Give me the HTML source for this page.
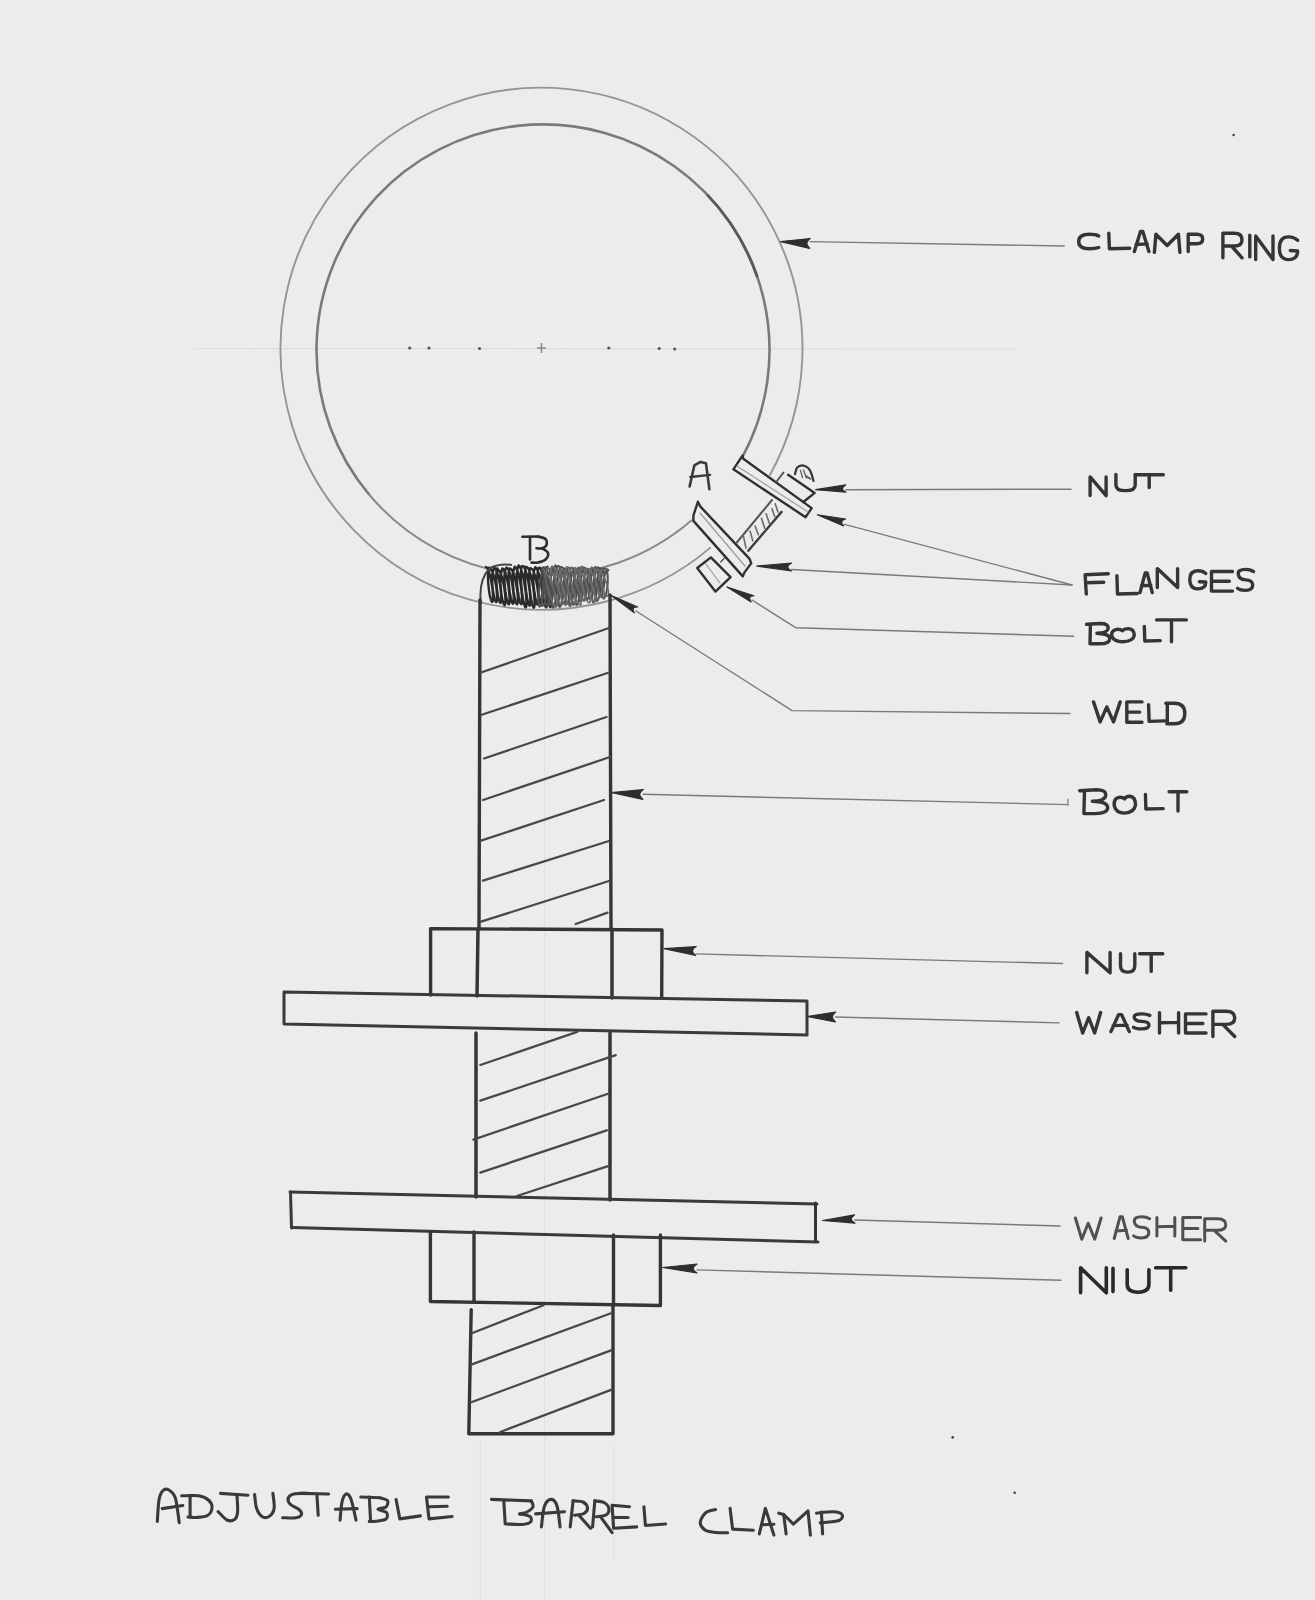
<!DOCTYPE html>
<html><head><meta charset="utf-8"><style>html,body{margin:0;padding:0;background:#ececec;overflow:hidden;}svg{display:block;}</style></head>
<body>
<svg width="1315" height="1600" viewBox="0 0 1315 1600">
<rect width="1315" height="1600" fill="#ececec"/>
<path d="M195.0 348.5 L1015.0 349.0" fill="none" stroke="#dddddd" stroke-width="1.2" stroke-linecap="round" stroke-linejoin="round" />
<path d="M544.5 600.0 L544.5 1600.0" fill="none" stroke="#e0e0e0" stroke-width="1.0" stroke-linecap="round" stroke-linejoin="round" />
<path d="M480.3 1440.0 L480.3 1600.0" fill="none" stroke="#e3e3e3" stroke-width="1.0" stroke-linecap="round" stroke-linejoin="round" />
<path d="M613.8 1445.0 L613.8 1560.0" fill="none" stroke="#e3e3e3" stroke-width="1.0" stroke-linecap="round" stroke-linejoin="round" />
<circle cx="409.7" cy="348.0" r="1.6" fill="#555"/>
<circle cx="429.0" cy="348.0" r="1.6" fill="#555"/>
<circle cx="479.5" cy="348.5" r="1.6" fill="#555"/>
<circle cx="608.8" cy="348.0" r="1.6" fill="#555"/>
<circle cx="659.2" cy="348.5" r="1.6" fill="#555"/>
<circle cx="674.7" cy="349.0" r="1.6" fill="#555"/>
<path d="M537 348 L546 348 M541.5 343 L541.5 353" stroke="#888" stroke-width="1.5"/>
<path d="M710.7 547.4 A261 261 0 1 1 769.6 475.5" fill="none" stroke="#959595" stroke-width="1.9"/>
<path d="M691.9 520.0 A226.5 225.6 0 0 1 369.5 495.0" fill="none" stroke="#8a8a8a" stroke-width="2.0"/>
<path d="M369.5 495.0 A226.5 225.6 0 1 1 743.0 455.9" fill="none" stroke="#7a7a7a" stroke-width="2.6"/>
<path d="M707.2 194.6 A226.5 225.6 0 0 1 757.3 277.0" fill="none" stroke="#5a5a5a" stroke-width="2.8"/>
<path d="M485.9 566.9 L487.1 567.7 L488.4 570.1 L489.6 574.0 L490.8 578.9 L491.8 584.4 L492.6 589.9 L493.0 594.9 L493.0 598.7 L492.7 601.1 L492.2 601.9 L491.4 600.9 L490.5 598.3 L489.6 594.4 L488.9 589.5 L488.3 584.2 L488.0 578.8 L488.0 574.0 L488.4 570.1 L489.0 567.6 L490.2 569.0 L491.3 569.8 L492.6 572.1 L493.8 575.8 L495.0 580.4 L496.0 585.7 L496.7 590.9 L497.0 595.5 L497.1 599.2 L496.8 601.4 L496.2 602.1 L495.4 601.2 L494.6 598.8 L493.7 595.1 L493.0 590.5 L492.4 585.4 L492.2 580.4 L492.2 575.8 L492.6 572.1 L493.3 569.7 L494.2 567.6 L495.3 568.4 L496.6 570.9 L497.9 574.8 L499.1 579.8 L500.1 585.3 L500.8 590.8 L501.2 595.8 L501.3 599.7 L501.0 602.1 L500.5 602.9 L499.7 601.9 L498.8 599.3 L497.9 595.4 L497.1 590.5 L496.6 585.1 L496.3 579.7 L496.3 574.8 L496.6 570.9 L497.3 568.3 L498.3 570.2 L499.5 571.0 L500.8 573.5 L502.0 577.3 L503.2 582.3 L504.2 587.7 L505.0 593.2 L505.4 598.1 L505.4 602.0 L505.1 604.4 L504.6 605.2 L503.8 604.2 L502.9 601.7 L502.0 597.8 L501.3 592.9 L500.7 587.5 L500.4 582.2 L500.4 577.3 L500.8 573.5 L501.4 570.9 L502.4 568.4 L503.6 569.2 L504.8 571.8 L506.1 575.7 L507.4 580.8 L508.4 586.4 L509.1 592.0 L509.5 597.1 L509.6 601.0 L509.3 603.5 L508.8 604.3 L508.0 603.4 L507.1 600.7 L506.2 596.7 L505.4 591.7 L504.8 586.2 L504.5 580.7 L504.5 575.7 L504.9 571.8 L505.5 569.2 L506.5 567.6 L507.7 568.5 L509.0 571.0 L510.3 575.0 L511.5 580.1 L512.5 585.7 L513.2 591.3 L513.7 596.4 L513.7 600.4 L513.5 602.9 L512.9 603.7 L512.1 602.7 L511.2 600.1 L510.4 596.1 L509.6 591.1 L509.0 585.5 L508.6 580.0 L508.6 575.0 L509.0 571.0 L509.7 568.4 L510.7 569.0 L511.9 569.8 L513.1 572.3 L514.4 576.2 L515.6 581.2 L516.6 586.7 L517.4 592.2 L517.8 597.1 L517.8 601.0 L517.6 603.5 L517.0 604.3 L516.2 603.4 L515.3 600.8 L514.5 596.9 L513.7 592.0 L513.1 586.5 L512.8 581.1 L512.8 576.2 L513.2 572.3 L513.8 569.7 L514.7 566.7 L515.9 567.6 L517.2 570.2 L518.5 574.4 L519.7 579.7 L520.8 585.5 L521.5 591.3 L522.0 596.6 L522.1 600.7 L521.8 603.4 L521.3 604.2 L520.5 603.3 L519.6 600.5 L518.7 596.4 L517.9 591.2 L517.2 585.4 L516.9 579.6 L516.9 574.4 L517.2 570.2 L517.8 567.5 L518.6 565.5 L519.7 566.5 L521.1 569.5 L522.5 574.1 L523.8 580.0 L524.9 586.6 L525.8 593.1 L526.3 599.0 L526.4 603.6 L526.2 606.6 L525.7 607.5 L524.9 606.5 L523.9 603.5 L523.0 598.8 L522.1 592.9 L521.4 586.5 L520.9 580.0 L520.8 574.1 L521.1 569.5 L521.7 566.5 L522.8 565.9 L524.0 566.8 L525.3 569.7 L526.7 574.1 L527.9 579.7 L529.0 585.8 L529.8 592.0 L530.3 597.6 L530.4 602.0 L530.2 604.8 L529.7 605.8 L528.9 604.8 L528.0 601.9 L527.0 597.5 L526.2 591.9 L525.5 585.8 L525.1 579.6 L525.0 574.1 L525.3 569.7 L526.0 566.8 L526.9 567.1 L528.1 568.1 L529.4 571.0 L530.8 575.5 L532.1 581.1 L533.2 587.4 L534.0 593.7 L534.5 599.4 L534.6 603.9 L534.4 606.7 L533.8 607.7 L533.1 606.7 L532.1 603.8 L531.2 599.3 L530.3 593.6 L529.6 587.4 L529.2 581.1 L529.2 575.5 L529.4 571.0 L530.1 568.1 L531.3 568.6 L532.5 569.5 L533.8 572.0 L535.1 576.0 L536.3 581.1 L537.3 586.7 L538.0 592.3 L538.5 597.4 L538.5 601.4 L538.3 603.9 L537.7 604.8 L536.9 603.9 L536.1 601.3 L535.2 597.3 L534.4 592.3 L533.8 586.7 L533.4 581.1 L533.4 576.0 L533.8 572.0 L534.5 569.5 L535.3 567.2 L536.5 568.1 L537.8 570.8 L539.1 575.1 L540.4 580.4 L541.4 586.3 L542.2 592.2 L542.7 597.5 L542.8 601.7 L542.5 604.4 L542.0 605.4 L541.2 604.4 L540.3 601.7 L539.4 597.5 L538.5 592.2 L537.9 586.3 L537.5 580.4 L537.5 575.1 L537.8 570.8 L538.5 568.1 L539.4 567.7 L540.5 568.7 L541.9 571.5 L543.2 575.9 L544.5 581.4 L545.6 587.5 L546.4 593.6 L546.8 599.1 L547.0 603.5 L546.7 606.4 L546.2 607.3 L545.4 606.4 L544.5 603.6 L543.6 599.2 L542.7 593.6 L542.0 587.5 L541.6 581.4 L541.6 575.9 L541.9 571.5 L542.5 568.7 L543.5 567.6 L544.7 568.5 L546.0 571.3 L547.4 575.7 L548.6 581.2 L549.7 587.3 L550.5 593.3 L551.0 598.8 L551.1 603.2 L550.8 606.0 L550.3 607.0 L549.5 606.0 L548.6 603.2 L547.7 598.9 L546.8 593.4 L546.2 587.3 L545.8 581.2 L545.7 575.7 L546.0 571.3 L546.7 568.5 L547.5 566.8" fill="none" stroke="#2a2a2a" stroke-width="2.4" stroke-linejoin="round" stroke-linecap="round"/>
<path d="M541.9 567.8 L543.0 568.7 L543.8 571.5 L544.2 575.8 L544.3 581.2 L544.0 587.2 L543.4 593.2 L542.6 598.6 L541.6 603.0 L540.6 605.7 L539.7 606.7 L539.0 605.7 L538.6 603.0 L538.4 598.7 L538.7 593.2 L539.3 587.2 L540.2 581.2 L541.4 575.8 L542.7 571.5 L544.0 568.7 L545.3 567.1 L546.3 568.1 L547.1 570.8 L547.6 575.0 L547.7 580.4 L547.4 586.3 L546.8 592.2 L546.0 597.5 L545.0 601.8 L544.0 604.5 L543.1 605.5 L542.4 604.5 L541.9 601.8 L541.8 597.6 L542.1 592.2 L542.7 586.3 L543.6 580.4 L544.7 575.0 L546.0 570.8 L547.4 568.1 L548.6 568.6 L549.6 569.5 L550.4 572.2 L550.9 576.2 L551.0 581.4 L550.7 587.1 L550.2 592.8 L549.4 597.9 L548.4 602.0 L547.4 604.7 L546.5 605.6 L545.8 604.7 L545.3 602.1 L545.2 598.0 L545.4 592.8 L546.0 587.1 L546.9 581.4 L548.0 576.2 L549.3 572.1 L550.7 569.5 L552.0 566.5 L553.0 567.4 L553.8 570.2 L554.3 574.4 L554.4 579.8 L554.1 585.7 L553.5 591.6 L552.7 597.0 L551.7 601.3 L550.7 604.0 L549.8 605.0 L549.1 604.1 L548.6 601.4 L548.5 597.1 L548.8 591.7 L549.4 585.8 L550.3 579.8 L551.4 574.4 L552.7 570.2 L554.1 567.4 L555.5 565.4 L556.6 566.5 L557.3 569.5 L557.7 574.2 L557.8 580.1 L557.4 586.6 L556.8 593.1 L555.9 599.0 L554.9 603.7 L553.9 606.8 L553.0 607.8 L552.2 606.8 L551.8 603.9 L551.7 599.2 L552.0 593.3 L552.7 586.7 L553.7 580.1 L554.9 574.2 L556.3 569.5 L557.6 566.5 L558.7 565.9 L559.8 566.9 L560.6 569.7 L561.0 574.1 L561.1 579.6 L560.8 585.7 L560.2 591.8 L559.4 597.3 L558.4 601.7 L557.4 604.6 L556.4 605.6 L555.7 604.7 L555.3 601.9 L555.2 597.5 L555.4 592.0 L556.1 585.8 L557.0 579.7 L558.2 574.1 L559.5 569.7 L560.8 566.9 L562.1 567.3 L563.2 568.3 L563.9 571.1 L564.4 575.5 L564.4 581.0 L564.1 587.1 L563.5 593.3 L562.7 598.8 L561.7 603.2 L560.7 606.1 L559.8 607.1 L559.1 606.2 L558.6 603.4 L558.5 599.0 L558.8 593.5 L559.4 587.3 L560.4 581.1 L561.5 575.5 L562.8 571.1 L564.2 568.3 L565.2 568.8 L566.3 569.7 L567.1 572.2 L567.6 576.1 L567.7 580.9 L567.5 586.3 L567.0 591.6 L566.2 596.5 L565.3 600.3 L564.3 602.9 L563.4 603.8 L562.6 603.0 L562.2 600.6 L562.0 596.7 L562.2 591.8 L562.8 586.4 L563.6 581.0 L564.7 576.1 L566.0 572.2 L567.3 569.7 L568.6 567.5 L569.7 568.5 L570.5 571.1 L571.0 575.1 L571.1 580.1 L570.8 585.7 L570.3 591.3 L569.5 596.3 L568.6 600.4 L567.6 603.0 L566.7 604.0 L565.9 603.2 L565.4 600.6 L565.3 596.6 L565.5 591.5 L566.1 585.9 L567.0 580.2 L568.1 575.1 L569.4 571.1 L570.7 568.5 L572.0 568.1 L573.1 569.1 L573.9 571.8 L574.3 575.9 L574.4 581.1 L574.2 586.8 L573.6 592.5 L572.8 597.7 L571.9 601.8 L570.9 604.6 L570.0 605.6 L569.2 604.7 L568.8 602.2 L568.6 598.0 L568.9 592.8 L569.5 587.0 L570.4 581.1 L571.5 575.9 L572.8 571.7 L574.1 569.1 L575.3 568.1 L576.4 569.0 L577.2 571.7 L577.7 575.7 L577.8 580.8 L577.5 586.4 L577.0 592.0 L576.2 597.1 L575.2 601.2 L574.3 603.9 L573.3 604.9 L572.6 604.1 L572.1 601.5 L572.0 597.5 L572.2 592.4 L572.8 586.6 L573.7 580.9 L574.8 575.7 L576.1 571.7 L577.4 569.1 L578.7 567.5 L579.8 568.4 L580.6 571.1 L581.0 575.3 L581.1 580.5 L580.9 586.2 L580.3 592.0 L579.5 597.2 L578.6 601.4 L577.6 604.1 L576.6 605.2 L575.9 604.4 L575.4 601.8 L575.3 597.6 L575.6 592.4 L576.2 586.5 L577.1 580.6 L578.2 575.3 L579.5 571.1 L580.8 568.5 L581.9 566.6 L583.0 567.5 L583.8 569.9 L584.3 573.7 L584.4 578.5 L584.2 583.8 L583.7 589.0 L583.0 593.8 L582.0 597.6 L581.1 600.2 L580.1 601.2 L579.4 600.4 L578.9 598.1 L578.8 594.3 L579.0 589.4 L579.5 584.0 L580.4 578.6 L581.5 573.7 L582.7 569.9 L584.0 567.5 L585.2 568.4 L586.3 569.2 L587.1 571.5 L587.6 575.1 L587.8 579.5 L587.6 584.5 L587.1 589.4 L586.4 593.9 L585.5 597.5 L584.5 599.9 L583.6 600.8 L582.9 600.1 L582.4 597.9 L582.2 594.4 L582.3 589.8 L582.9 584.8 L583.7 579.7 L584.8 575.1 L586.0 571.5 L587.3 569.2 L588.5 568.8 L589.5 569.7 L590.3 571.9 L590.9 575.2 L591.1 579.4 L590.9 584.1 L590.5 588.7 L589.8 593.0 L588.9 596.4 L587.9 598.7 L587.0 599.6 L586.3 598.9 L585.8 596.9 L585.6 593.5 L585.7 589.2 L586.2 584.4 L587.0 579.6 L588.1 575.2 L589.3 571.8 L590.5 569.7 L591.8 568.2 L592.9 569.0 L593.7 571.2 L594.2 574.6 L594.4 578.7 L594.3 583.4 L593.8 588.0 L593.1 592.2 L592.3 595.6 L591.3 597.9 L590.4 598.8 L589.6 598.2 L589.1 596.1 L588.9 592.8 L589.1 588.5 L589.6 583.7 L590.4 578.9 L591.4 574.6 L592.6 571.2 L593.9 569.0 L595.4 566.8 L596.5 567.7 L597.3 570.3 L597.7 574.2 L597.9 579.1 L597.6 584.5 L597.1 590.0 L596.3 594.9 L595.4 598.9 L594.4 601.6 L593.5 602.6 L592.7 601.9 L592.3 599.5 L592.1 595.6 L592.3 590.5 L592.9 584.9 L593.8 579.3 L594.9 574.2 L596.2 570.2 L597.5 567.8 L598.6 567.6 L599.7 568.5 L600.5 570.9 L601.0 574.6 L601.2 579.1 L601.0 584.1 L600.5 589.2 L599.8 593.8 L598.8 597.5 L597.9 600.0 L597.0 601.0 L596.2 600.3 L595.7 598.1 L595.5 594.5 L595.7 589.8 L596.3 584.5 L597.1 579.3 L598.2 574.6 L599.4 570.9 L600.7 568.6 L601.7 568.2 L602.8 568.9 L603.7 571.0 L604.2 574.1 L604.4 578.0 L604.3 582.2 L603.9 586.5 L603.2 590.4 L602.4 593.5 L601.5 595.7 L600.6 596.6 L599.8 596.1 L599.3 594.2 L599.0 591.1 L599.2 587.1 L599.6 582.6 L600.4 578.1 L601.4 574.1 L602.6 571.0 L603.8 569.0 L605.2 568.4 L606.2 569.2 L607.1 571.4 L607.6 574.7 L607.8 578.8 L607.7 583.3 L607.2 587.8 L606.5 592.0 L605.7 595.3 L604.7 597.6 L603.8 598.6 L603.1 598.0 L602.5 596.0 L602.3 592.7 L602.5 588.5 L603.0 583.7 L603.8 579.0 L604.8 574.7 L606.0 571.4 L607.3 569.3 L608.5 570.3" fill="none" stroke="#505050" stroke-width="2.0" stroke-linejoin="round" stroke-linecap="round"/>
<path d="M542.3 569.3 L544.1 570.3 L546.2 573.0 L548.6 577.2 L551.0 582.4 L553.2 588.3 L555.0 594.1 L556.3 599.4 L556.9 603.6 L556.8 606.3 L556.1 607.2 L554.8 606.3 L553.2 603.7 L551.3 599.5 L549.3 594.2 L547.6 588.3 L546.3 582.5 L545.5 577.2 L545.4 573.0 L546.0 570.3 L547.4 567.7 L549.2 568.6 L551.3 571.2 L553.6 575.2 L555.9 580.2 L558.0 585.7 L559.7 591.2 L560.9 596.2 L561.5 600.2 L561.4 602.8 L560.6 603.7 L559.4 602.9 L557.8 600.4 L555.9 596.4 L554.1 591.4 L552.5 585.8 L551.2 580.2 L550.5 575.2 L550.5 571.2 L551.1 568.7 L551.8 566.6 L553.6 567.5 L555.8 570.3 L558.2 574.6 L560.7 580.0 L562.9 585.9 L564.7 591.8 L566.0 597.2 L566.6 601.5 L566.6 604.3 L565.9 605.4 L564.6 604.5 L562.9 601.8 L561.0 597.5 L559.1 592.1 L557.3 586.0 L555.9 580.0 L555.1 574.6 L555.0 570.3 L555.5 567.6 L556.9 569.3 L558.7 570.2 L560.9 572.9 L563.2 576.9 L565.6 582.1 L567.7 587.7 L569.5 593.4 L570.7 598.5 L571.2 602.6 L571.2 605.3 L570.5 606.3 L569.2 605.5 L567.6 602.9 L565.7 598.8 L563.8 593.7 L562.1 587.9 L560.8 582.1 L560.1 576.9 L560.0 572.8 L560.6 570.3 L562.2 569.6 L564.0 570.5 L566.1 572.9 L568.3 576.6 L570.6 581.3 L572.5 586.4 L574.1 591.5 L575.2 596.2 L575.7 600.0 L575.5 602.4 L574.8 603.4 L573.6 602.6 L572.0 600.3 L570.2 596.6 L568.5 591.9 L567.0 586.6 L565.8 581.4 L565.2 576.6 L565.2 572.9 L565.9 570.5 L566.4 566.8 L568.1 567.8 L570.4 570.5 L572.8 574.8 L575.2 580.1 L577.4 585.9 L579.2 591.8 L580.4 597.1 L581.1 601.3 L581.0 604.2 L580.3 605.2 L579.1 604.4 L577.4 601.8 L575.5 597.5 L573.5 592.2 L571.8 586.2 L570.4 580.2 L569.6 574.8 L569.5 570.5 L570.1 567.8 L571.9 567.3 L573.7 568.2 L575.8 570.6 L578.0 574.3 L580.2 578.9 L582.2 584.0 L583.8 589.1 L584.8 593.7 L585.3 597.5 L585.2 599.9 L584.4 600.9 L583.2 600.2 L581.7 597.9 L579.9 594.3 L578.2 589.6 L576.6 584.3 L575.5 579.0 L574.9 574.3 L574.9 570.6 L575.6 568.3 L576.7 569.1 L578.5 570.0 L580.6 572.4 L582.9 576.1 L585.1 580.7 L587.0 585.8 L588.6 590.9 L589.7 595.6 L590.2 599.4 L590.0 601.9 L589.3 602.9 L588.1 602.2 L586.5 599.9 L584.8 596.2 L583.0 591.5 L581.5 586.2 L580.3 580.9 L579.7 576.1 L579.7 572.4 L580.4 570.0 L581.3 566.7 L583.1 567.7 L585.3 570.2 L587.6 574.1 L589.8 578.9 L591.9 584.1 L593.5 589.4 L594.6 594.3 L595.1 598.2 L595.0 600.8 L594.3 601.8 L593.1 601.1 L591.5 598.8 L589.7 594.9 L587.9 590.0 L586.3 584.5 L585.1 579.0 L584.4 574.1 L584.4 570.2 L585.1 567.7 L586.9 568.7 L588.6 569.5 L590.7 571.7 L592.8 575.0 L594.9 579.1 L596.7 583.6 L598.1 588.2 L599.0 592.3 L599.4 595.7 L599.2 598.0 L598.4 598.9 L597.3 598.4 L595.8 596.4 L594.1 593.1 L592.5 588.8 L591.1 584.1 L590.1 579.3 L589.7 575.0 L589.8 571.7 L590.6 569.6 L591.6 567.1 L593.3 567.9 L595.4 570.2 L597.6 573.6 L599.7 577.9 L601.5 582.6 L603.0 587.3 L603.9 591.5 L604.3 595.0 L604.2 597.4 L603.4 598.4 L602.2 597.8 L600.7 595.8 L599.0 592.4 L597.4 588.0 L596.0 583.0 L594.9 578.1 L594.4 573.6 L594.5 570.2 L595.3 568.0 L597.1 570.0 L598.9 570.7 L600.8 572.6 L602.9 575.5 L604.8 579.0 L606.4 582.9 L607.6 586.8 L608.3 590.4 L608.5 593.3 L608.3 595.3 L607.5 596.2 L606.4 595.8 L605.0 594.1 L603.4 591.3 L602.0 587.6 L600.8 583.4 L600.0 579.2 L599.7 575.5 L600.0 572.6 L600.8 570.8 L602.1 571.0" fill="none" stroke="#6a6a6a" stroke-width="1.6" stroke-linejoin="round" stroke-linecap="round"/>
<path d="M481 604 Q478 580 490 568 Q500 563 512 565" fill="none" stroke="#444" stroke-width="2"/>
<path d="M480.0 600.0 L479.0 929.0" fill="none" stroke="#353535" stroke-width="3.4" stroke-linecap="round" stroke-linejoin="round" />
<path d="M610.0 595.0 L611.0 929.0" fill="none" stroke="#353535" stroke-width="3.4" stroke-linecap="round" stroke-linejoin="round" />
<path d="M478.0 929.0 L477.0 996.0" fill="none" stroke="#353535" stroke-width="3.5" stroke-linecap="round" stroke-linejoin="round" />
<path d="M612.0 929.0 L612.0 998.0" fill="none" stroke="#353535" stroke-width="3.5" stroke-linecap="round" stroke-linejoin="round" />
<path d="M476.0 1033.0 L476.0 1197.0" fill="none" stroke="#353535" stroke-width="3.5" stroke-linecap="round" stroke-linejoin="round" />
<path d="M610.0 1033.0 L610.0 1200.0" fill="none" stroke="#353535" stroke-width="3.5" stroke-linecap="round" stroke-linejoin="round" />
<path d="M474.0 1232.0 L474.0 1302.0" fill="none" stroke="#353535" stroke-width="3.4" stroke-linecap="round" stroke-linejoin="round" />
<path d="M613.5 1235.0 L613.5 1305.0" fill="none" stroke="#353535" stroke-width="3.4" stroke-linecap="round" stroke-linejoin="round" />
<path d="M471.2 1309.6 L468.8 1433.8 L613.0 1433.8 L613.0 1305.0" fill="none" stroke="#353535" stroke-width="3.4" stroke-linecap="round" stroke-linejoin="round" />
<path d="M430.6 995.0 L430.6 928.6 L662.0 930.0 L661.7 998.0" fill="none" stroke="#353535" stroke-width="3.4" stroke-linecap="round" stroke-linejoin="round" />
<path d="M284.0 992.0 L807.0 1001.0 L807.0 1035.0 L284.0 1024.0 L284.0 992.0" fill="none" stroke="#3a3a3a" stroke-width="3.0" stroke-linecap="round" stroke-linejoin="round" />
<path d="M290.0 1192.0 L817.0 1204.0" fill="none" stroke="#3a3a3a" stroke-width="3.0" stroke-linecap="round" stroke-linejoin="round" />
<path d="M815.5 1203.0 L815.5 1241.5" fill="none" stroke="#353535" stroke-width="3.0" stroke-linecap="round" stroke-linejoin="round" />
<path d="M292.0 1227.5 L818.0 1242.0" fill="none" stroke="#3a3a3a" stroke-width="3.0" stroke-linecap="round" stroke-linejoin="round" />
<path d="M290.5 1192.0 L291.5 1228.0" fill="none" stroke="#3a3a3a" stroke-width="3.0" stroke-linecap="round" stroke-linejoin="round" />
<path d="M430.4 1232.0 L430.4 1301.5 L660.4 1305.5 L660.4 1235.0" fill="none" stroke="#353535" stroke-width="3.4" stroke-linecap="round" stroke-linejoin="round" />
<path d="M481.0 672.5 L609.0 628.0" fill="none" stroke="#484848" stroke-width="2.3" stroke-linecap="round" stroke-linejoin="round" />
<path d="M481.0 715.0 L609.0 672.5" fill="none" stroke="#484848" stroke-width="2.3" stroke-linecap="round" stroke-linejoin="round" />
<path d="M484.0 758.5 L606.5 717.0" fill="none" stroke="#484848" stroke-width="2.3" stroke-linecap="round" stroke-linejoin="round" />
<path d="M483.0 800.0 L610.0 757.0" fill="none" stroke="#484848" stroke-width="2.3" stroke-linecap="round" stroke-linejoin="round" />
<path d="M481.0 840.7 L604.0 800.0" fill="none" stroke="#484848" stroke-width="2.3" stroke-linecap="round" stroke-linejoin="round" />
<path d="M483.0 880.6 L609.0 841.0" fill="none" stroke="#484848" stroke-width="2.3" stroke-linecap="round" stroke-linejoin="round" />
<path d="M481.0 921.7 L609.0 881.0" fill="none" stroke="#484848" stroke-width="2.3" stroke-linecap="round" stroke-linejoin="round" />
<path d="M575.7 924.0 L607.6 912.6" fill="none" stroke="#484848" stroke-width="2.3" stroke-linecap="round" stroke-linejoin="round" />
<path d="M480.3 1065.0 L577.2 1031.9" fill="none" stroke="#484848" stroke-width="2.3" stroke-linecap="round" stroke-linejoin="round" />
<path d="M480.3 1100.7 L615.7 1055.2" fill="none" stroke="#484848" stroke-width="2.3" stroke-linecap="round" stroke-linejoin="round" />
<path d="M473.4 1139.6 L608.8 1093.5" fill="none" stroke="#484848" stroke-width="2.3" stroke-linecap="round" stroke-linejoin="round" />
<path d="M480.3 1172.6 L606.8 1130.3" fill="none" stroke="#484848" stroke-width="2.3" stroke-linecap="round" stroke-linejoin="round" />
<path d="M516.9 1196.0 L608.8 1165.9" fill="none" stroke="#484848" stroke-width="2.3" stroke-linecap="round" stroke-linejoin="round" />
<path d="M471.8 1333.2 L543.6 1305.2" fill="none" stroke="#484848" stroke-width="2.3" stroke-linecap="round" stroke-linejoin="round" />
<path d="M470.6 1364.8 L611.7 1313.0" fill="none" stroke="#484848" stroke-width="2.3" stroke-linecap="round" stroke-linejoin="round" />
<path d="M470.6 1402.5 L611.7 1350.2" fill="none" stroke="#484848" stroke-width="2.3" stroke-linecap="round" stroke-linejoin="round" />
<path d="M499.8 1432.2 L611.7 1389.6" fill="none" stroke="#484848" stroke-width="2.3" stroke-linecap="round" stroke-linejoin="round" />
<path d="M742.5 455.6 L743.3 458.7 L811.7 508.1 L805.6 517.2 L733.4 469.3 L742.5 455.6" fill="none" stroke="#303030" stroke-width="2.4" stroke-linecap="round" stroke-linejoin="round" />
<path d="M737.0 466.0 L808.0 512.0" fill="none" stroke="#a0a0a0" stroke-width="1.2" stroke-linecap="round" stroke-linejoin="round" />
<path d="M776.0 482.3 L783.6 472.4" fill="none" stroke="#505050" stroke-width="1.8" stroke-linecap="round" stroke-linejoin="round" />
<path d="M788.1 474.7 L814.7 492.9 L803.3 502.0" fill="none" stroke="#303030" stroke-width="2.4" stroke-linecap="round" stroke-linejoin="round" />
<path d="M795.0 474.2 C795.4 473.1 796.0 469.0 797.2 467.5 C798.5 466.0 800.6 465.2 802.5 465.3 C804.4 465.4 807.0 466.8 808.5 468.2 C810.0 469.6 810.7 471.9 811.5 474.0 C812.3 476.1 813.2 479.8 813.5 481.0" fill="none" stroke="#363636" stroke-width="2.2" stroke-linecap="round" stroke-linejoin="round"/>
<path d="M800.5 470.5 L802.5 477.5" fill="none" stroke="#6a6a6a" stroke-width="1.4" stroke-linecap="round" stroke-linejoin="round" />
<path d="M803.5 470.0 L806.5 478.0" fill="none" stroke="#6a6a6a" stroke-width="1.4" stroke-linecap="round" stroke-linejoin="round" />
<path d="M806.0 476.0 L810.5 479.0" fill="none" stroke="#555" stroke-width="1.6" stroke-linecap="round" stroke-linejoin="round" />
<path d="M697.9 501.8 L693.4 515.5 L693.4 520.9 L742.8 576.4 L744.3 572.6 L751.2 563.4 L749.6 558.9 L700.2 506.4 L697.9 501.8" fill="none" stroke="#303030" stroke-width="2.4" stroke-linecap="round" stroke-linejoin="round" />
<path d="M700.0 513.0 L745.0 566.0" fill="none" stroke="#9a9a9a" stroke-width="1.2" stroke-linecap="round" stroke-linejoin="round" />
<path d="M736.8 542.5 L772.0 500.0" fill="none" stroke="#555" stroke-width="2.0" stroke-linecap="round" stroke-linejoin="round" />
<path d="M748.3 550.7 L781.6 511.9" fill="none" stroke="#3c3c3c" stroke-width="2.4" stroke-linecap="round" stroke-linejoin="round" />
<path d="M743.2 535.2 L746.0 548.0" fill="none" stroke="#6a6a6a" stroke-width="1.6" stroke-linecap="round" stroke-linejoin="round" />
<path d="M750.1 531.1 L752.8 540.7" fill="none" stroke="#6a6a6a" stroke-width="1.6" stroke-linecap="round" stroke-linejoin="round" />
<path d="M755.1 526.0 L758.3 534.7" fill="none" stroke="#6a6a6a" stroke-width="1.6" stroke-linecap="round" stroke-linejoin="round" />
<path d="M761.5 518.3 L764.7 528.3" fill="none" stroke="#6a6a6a" stroke-width="1.6" stroke-linecap="round" stroke-linejoin="round" />
<path d="M766.1 513.7 L769.7 524.2" fill="none" stroke="#6a6a6a" stroke-width="1.6" stroke-linecap="round" stroke-linejoin="round" />
<path d="M772.0 508.7 L774.7 516.5" fill="none" stroke="#6a6a6a" stroke-width="1.6" stroke-linecap="round" stroke-linejoin="round" />
<path d="M775.2 503.7 L777.9 511.9" fill="none" stroke="#6a6a6a" stroke-width="1.6" stroke-linecap="round" stroke-linejoin="round" />
<path d="M697.2 568.0 L710.9 557.4 L730.6 577.1 L715.4 591.6 L697.2 568.0" fill="none" stroke="#303030" stroke-width="2.4" stroke-linecap="round" stroke-linejoin="round" />
<path d="M705.5 563.5 L720.0 583.0" fill="none" stroke="#9a9a9a" stroke-width="1.2" stroke-linecap="round" stroke-linejoin="round" />
<path d="M720.7 561.9 L724.5 558.1" fill="none" stroke="#555" stroke-width="1.4" stroke-linecap="round" stroke-linejoin="round" />
<path d="M810.0 241.6 L1064.2 246.0" fill="none" stroke="#7a7a7a" stroke-width="1.4" stroke-linecap="round" stroke-linejoin="round" />
<path d="M845.8 489.7 L1071.0 489.2" fill="none" stroke="#7a7a7a" stroke-width="1.4" stroke-linecap="round" stroke-linejoin="round" />
<path d="M844.7 524.4 L1072.0 585.0" fill="none" stroke="#7a7a7a" stroke-width="1.4" stroke-linecap="round" stroke-linejoin="round" />
<path d="M791.6 569.5 L1072.0 585.0" fill="none" stroke="#7a7a7a" stroke-width="1.4" stroke-linecap="round" stroke-linejoin="round" />
<path d="M752.0 600.0 L795.6 627.7 L1073.8 636.2" fill="none" stroke="#7a7a7a" stroke-width="1.4" stroke-linecap="round" stroke-linejoin="round" />
<path d="M636.0 611.0 L792.0 710.6 L1070.0 713.5" fill="none" stroke="#7a7a7a" stroke-width="1.4" stroke-linecap="round" stroke-linejoin="round" />
<path d="M643.2 794.3 L1068.0 804.6" fill="none" stroke="#7a7a7a" stroke-width="1.4" stroke-linecap="round" stroke-linejoin="round" />
<path d="M1068.0 799.0 L1068.0 805.0" fill="none" stroke="#7a7a7a" stroke-width="1.2" stroke-linecap="round" stroke-linejoin="round" />
<path d="M696.0 953.9 L1062.6 963.5" fill="none" stroke="#7a7a7a" stroke-width="1.4" stroke-linecap="round" stroke-linejoin="round" />
<path d="M835.6 1017.0 L1059.0 1022.9" fill="none" stroke="#7a7a7a" stroke-width="1.4" stroke-linecap="round" stroke-linejoin="round" />
<path d="M854.7 1220.0 L1060.0 1226.0" fill="none" stroke="#7a7a7a" stroke-width="1.4" stroke-linecap="round" stroke-linejoin="round" />
<path d="M697.0 1269.9 L1061.0 1280.3" fill="none" stroke="#7a7a7a" stroke-width="1.4" stroke-linecap="round" stroke-linejoin="round" />
<path d="M780.7 241.6 L809.7 248.4 Q803.6 243.1 810.3 238.6 Z" fill="#2e2e2e" stroke="#2e2e2e" stroke-width="1.2" stroke-linejoin="round"/>
<path d="M815.6 489.7 L845.9 492.1 Q839.2 488.8 845.7 484.9 Z" fill="#2e2e2e" stroke="#2e2e2e" stroke-width="1.2" stroke-linejoin="round"/>
<path d="M817.3 514.8 L843.7 526.0 Q838.7 520.8 845.7 519.0 Z" fill="#2e2e2e" stroke="#2e2e2e" stroke-width="1.2" stroke-linejoin="round"/>
<path d="M756.8 566.1 L791.5 571.0 Q783.9 566.8 791.7 563.0 Z" fill="#2e2e2e" stroke="#2e2e2e" stroke-width="1.2" stroke-linejoin="round"/>
<path d="M727.0 587.1 L751.1 601.9 Q746.9 596.2 753.9 595.7 Z" fill="#2e2e2e" stroke="#2e2e2e" stroke-width="1.2" stroke-linejoin="round"/>
<path d="M611.3 595.6 L634.3 612.8 Q630.6 606.8 637.7 607.0 Z" fill="#2e2e2e" stroke="#2e2e2e" stroke-width="1.2" stroke-linejoin="round"/>
<path d="M611.0 792.5 L642.9 799.4 Q636.1 794.1 643.5 789.6 Z" fill="#2e2e2e" stroke="#2e2e2e" stroke-width="1.2" stroke-linejoin="round"/>
<path d="M664.0 948.7 L695.7 955.5 Q689.0 950.5 696.3 946.5 Z" fill="#2e2e2e" stroke="#2e2e2e" stroke-width="1.2" stroke-linejoin="round"/>
<path d="M807.0 1016.5 L835.5 1021.9 Q829.3 1016.9 835.7 1012.1 Z" fill="#2e2e2e" stroke="#2e2e2e" stroke-width="1.2" stroke-linejoin="round"/>
<path d="M822.5 1220.5 L854.9 1223.1 Q847.6 1219.3 854.5 1214.9 Z" fill="#2e2e2e" stroke="#2e2e2e" stroke-width="1.2" stroke-linejoin="round"/>
<path d="M662.8 1267.5 L696.9 1273.0 Q689.5 1268.3 697.1 1264.0 Z" fill="#2e2e2e" stroke="#2e2e2e" stroke-width="1.2" stroke-linejoin="round"/>
<path d="M689.6 486.5 L694.4 465.3 L700.5 461.9 L706.0 463.3 L709.4 489.3" fill="none" stroke="#3a3a3a" stroke-width="2.6" stroke-linecap="round" stroke-linejoin="round" />
<path d="M690.3 477.0 L710.1 474.9" fill="none" stroke="#3a3a3a" stroke-width="2.4" stroke-linecap="round" stroke-linejoin="round" />
<path d="M522.4 536.7 L538.0 536.5" fill="none" stroke="#2e2e2e" stroke-width="2.6" stroke-linecap="round" stroke-linejoin="round" />
<path d="M538.0 536.5 C539.2 536.9 544.1 537.6 545.5 539.0 C546.9 540.4 547.1 543.5 546.5 545.0 C545.9 546.5 543.7 547.8 542.0 548.3 C540.3 548.8 537.4 548.3 536.5 548.3" fill="none" stroke="#2e2e2e" stroke-width="2.6" stroke-linecap="round" stroke-linejoin="round"/>
<path d="M542.0 548.3 C543.0 549.1 547.4 551.1 548.0 553.0 C548.6 554.9 547.2 557.9 545.5 559.5 C543.8 561.1 540.3 562.0 538.0 562.5 C535.7 563.0 532.6 562.6 531.5 562.6" fill="none" stroke="#2e2e2e" stroke-width="2.6" stroke-linecap="round" stroke-linejoin="round"/>
<path d="M530.0 536.7 L530.0 559.5" fill="none" stroke="#2e2e2e" stroke-width="2.6" stroke-linecap="round" stroke-linejoin="round" />
<path d="M 1098.7 235.9 Q 1095.7 234.2 1089.7 234.2 Q 1078.7 234.2 1078.7 241.4 Q 1078.7 248.7 1089.7 248.7 Q 1095.7 248.7 1098.7 247.5 M 1108.8 233.3 L 1109.4 248.7 L 1129.7 248.2 M 1134.4 251.5 L 1140.5 231.4 L 1142.8 231.4 L 1148.9 251.5 M 1136.1 244.5 L 1147.2 243.9 M 1154.4 252.4 L 1155.9 234.2 L 1167.2 245.5 L 1178.4 234.2 L 1179.9 252.4 M 1188.2 251.5 L 1188.2 234.2 L 1196.9 234.2 Q 1202.7 234.2 1202.7 239.0 Q 1202.7 243.7 1196.9 243.7 L 1188.2 243.7 M 1222.9 257.8 L 1222.9 233.3 L 1234.4 233.3 Q 1242.0 233.3 1242.0 239.9 Q 1242.0 246.0 1234.4 246.0 L 1222.9 246.0 M 1231.5 246.0 L 1242.0 257.8 M 1249.8 235.1 L 1249.8 256.9 M 1255.7 259.6 L 1255.7 236.0 L 1273.0 259.6 L 1273.0 236.0 M 1297.6 240.3 Q 1294.0 236.9 1288.5 236.9 Q 1279.4 236.9 1279.4 248.2 Q 1279.4 259.6 1288.5 259.6 Q 1297.6 259.6 1297.6 251.0 L 1290.3 250.5 " fill="none" stroke="#353535" stroke-width="3.4" stroke-linecap="round" stroke-linejoin="round"/>
<path d="M 1090.1 495.6 L 1090.1 476.9 L 1106.1 495.6 L 1106.1 476.9 M 1115.9 474.4 L 1115.9 484.9 Q 1115.9 490.6 1125.5 490.6 Q 1135.2 490.6 1135.2 484.9 L 1135.2 474.4 M 1135.0 474.7 L 1163.3 474.7 M 1149.2 474.7 L 1149.2 487.6 " fill="none" stroke="#353535" stroke-width="3.4" stroke-linecap="round" stroke-linejoin="round"/>
<path d="M 1108.3 573.7 L 1085.1 574.7 L 1086.3 594.0 M 1085.6 582.8 L 1103.7 582.2 M 1116.9 575.8 L 1117.5 594.0 L 1137.2 593.5 M 1140.0 592.6 L 1145.2 573.0 L 1147.1 573.0 L 1152.3 592.6 M 1141.5 585.7 L 1150.8 585.2 M 1157.3 587.5 L 1157.3 568.6 L 1177.6 587.5 L 1177.6 568.6 M 1205.8 573.5 Q 1202.6 570.8 1197.8 570.8 Q 1189.8 570.8 1189.8 579.8 Q 1189.8 588.9 1197.8 588.9 Q 1205.8 588.9 1205.8 582.0 L 1199.4 581.7 M 1232.5 571.5 L 1211.5 571.5 L 1211.5 591.1 L 1232.5 591.1 M 1211.5 581.3 L 1229.3 581.3 M 1253.5 571.5 Q 1250.3 569.4 1245.5 569.4 Q 1237.5 569.4 1238.3 574.6 Q 1239.1 579.5 1245.5 579.9 Q 1252.7 580.3 1252.7 585.1 Q 1252.7 590.4 1245.5 590.4 Q 1239.9 590.4 1237.5 588.3 " fill="none" stroke="#353535" stroke-width="3.4" stroke-linecap="round" stroke-linejoin="round"/>
<path d="M 1086.5 624.3 L 1100.4 623.5 Q 1108.5 623.5 1108.1 628.4 Q 1107.4 633.0 1096.9 633.2 Q 1109.7 633.7 1109.7 638.7 Q 1109.7 643.8 1099.3 643.8 L 1090.0 643.8 M 1090.4 624.3 L 1090.0 643.8 M 1122.7 630.7 Q 1118.1 627.9 1113.4 630.7 Q 1111.1 632.7 1111.8 636.2 Q 1113.9 641.7 1122.7 641.7 Q 1133.1 641.4 1134.3 635.5 Q 1134.3 629.3 1128.5 628.6 Q 1123.9 628.6 1122.7 630.7 M 1144.3 626.4 L 1144.8 641.0 L 1160.3 640.6 M 1156.6 619.9 L 1186.3 619.9 M 1171.5 619.9 L 1171.5 641.7 " fill="none" stroke="#353535" stroke-width="3.4" stroke-linecap="round" stroke-linejoin="round"/>
<path d="M 1093.5 701.9 L 1100.2 721.9 L 1106.8 706.9 L 1113.5 721.9 L 1120.2 701.9 M 1142.0 701.9 L 1126.8 701.9 L 1126.8 722.3 L 1142.0 722.3 M 1126.8 712.1 L 1139.7 712.1 M 1148.6 704.7 L 1149.1 721.4 L 1164.9 720.9 M 1167.3 703.3 L 1167.3 723.8 M 1165.8 703.3 L 1174.4 703.3 Q 1184.8 703.3 1184.8 713.5 Q 1184.8 723.8 1174.4 723.8 L 1166.8 723.8 " fill="none" stroke="#353535" stroke-width="3.4" stroke-linecap="round" stroke-linejoin="round"/>
<path d="M 1079.7 790.7 L 1096.5 789.7 Q 1106.3 789.7 1105.7 795.4 Q 1104.9 800.9 1092.3 801.2 Q 1107.7 801.6 1107.7 807.6 Q 1107.7 813.6 1095.1 813.6 L 1083.9 813.6 M 1084.5 790.7 L 1083.9 813.6 M 1124.6 798.9 Q 1120.2 795.4 1115.8 798.9 Q 1113.6 801.6 1114.3 806.0 Q 1116.2 813.1 1124.6 813.1 Q 1134.4 812.7 1135.5 805.1 Q 1135.5 797.2 1130.0 796.3 Q 1125.6 796.3 1124.6 798.9 M 1145.4 794.4 L 1145.9 809.0 L 1163.2 808.6 M 1169.1 791.8 L 1186.8 791.8 M 1178.0 791.8 L 1178.0 811.1 " fill="none" stroke="#353535" stroke-width="3.4" stroke-linecap="round" stroke-linejoin="round"/>
<path d="M 1086.9 972.8 L 1086.9 952.4 L 1110.1 972.8 L 1110.1 952.4 M 1120.5 953.7 L 1120.5 965.7 Q 1120.5 972.1 1127.7 972.1 Q 1134.8 972.1 1134.8 965.7 L 1134.8 953.7 M 1139.6 953.7 L 1162.8 953.7 M 1151.2 953.7 L 1151.2 971.4 " fill="none" stroke="#353535" stroke-width="3.4" stroke-linecap="round" stroke-linejoin="round"/>
<path d="M 1076.7 1012.6 L 1082.7 1033.0 L 1088.7 1017.7 L 1094.6 1033.0 L 1100.6 1012.6 M 1110.9 1031.6 L 1118.6 1014.6 L 1121.6 1014.6 L 1129.3 1031.6 M 1113.1 1025.6 L 1127.1 1025.1 M 1149.8 1015.4 Q 1146.5 1013.9 1141.7 1013.9 Q 1133.5 1013.9 1134.3 1017.6 Q 1135.1 1021.1 1141.7 1021.4 Q 1149.0 1021.7 1149.0 1025.1 Q 1149.0 1028.9 1141.7 1028.9 Q 1135.9 1028.9 1133.5 1027.4 M 1159.5 1012.6 L 1159.5 1033.0 M 1178.6 1012.6 L 1178.6 1033.0 M 1159.5 1022.8 L 1178.6 1022.4 M 1206.0 1013.9 L 1185.5 1013.9 L 1185.5 1033.0 L 1206.0 1033.0 M 1185.5 1023.5 L 1202.9 1023.5 M 1212.9 1036.5 L 1212.9 1011.2 L 1226.0 1011.2 Q 1234.7 1011.2 1234.7 1018.0 Q 1234.7 1024.4 1226.0 1024.4 L 1212.9 1024.4 M 1222.7 1024.4 L 1234.7 1036.5 " fill="none" stroke="#353535" stroke-width="3.4" stroke-linecap="round" stroke-linejoin="round"/>
<path d="M 1075.4 1218.0 L 1081.8 1239.2 L 1088.2 1223.3 L 1094.7 1239.2 L 1101.1 1218.0 M 1114.2 1238.5 L 1120.1 1216.7 L 1122.3 1216.7 L 1128.2 1238.5 M 1115.9 1230.9 L 1126.5 1230.2 M 1149.6 1218.8 Q 1146.4 1216.7 1141.6 1216.7 Q 1133.6 1216.7 1134.4 1222.0 Q 1135.2 1226.9 1141.6 1227.3 Q 1148.8 1227.7 1148.8 1232.6 Q 1148.8 1237.9 1141.6 1237.9 Q 1136.0 1237.9 1133.6 1235.8 M 1156.9 1217.4 L 1156.9 1235.9 M 1174.8 1217.4 L 1174.8 1235.9 M 1156.9 1226.7 L 1174.8 1226.3 M 1200.6 1217.4 L 1182.8 1217.4 L 1182.8 1239.8 L 1200.6 1239.8 M 1182.8 1228.6 L 1197.9 1228.6 M 1204.7 1241.1 L 1204.7 1218.7 L 1217.4 1218.7 Q 1225.8 1218.7 1225.8 1224.7 Q 1225.8 1230.3 1217.4 1230.3 L 1204.7 1230.3 M 1214.2 1230.3 L 1225.8 1241.1 " fill="none" stroke="#505050" stroke-width="3.0" stroke-linecap="round" stroke-linejoin="round"/>
<path d="M 1080.6 1292.8 L 1080.6 1267.8 L 1106.3 1292.8 L 1106.3 1267.8 M 1113.0 1268.4 L 1113.0 1291.6 M 1127.2 1269.7 L 1127.2 1284.3 Q 1127.2 1292.2 1138.0 1292.2 Q 1148.9 1292.2 1148.9 1284.3 L 1148.9 1269.7 M 1155.6 1267.8 L 1185.8 1267.8 M 1170.7 1267.8 L 1170.7 1290.2 " fill="none" stroke="#2a2a2a" stroke-width="3.6" stroke-linecap="round" stroke-linejoin="round"/>
<path d="M157.3 1521.4 C157.6 1517.8 158.1 1505.2 159.0 1500.0 C159.9 1494.8 161.3 1492.2 163.0 1490.5 C164.7 1488.8 167.0 1488.9 169.0 1490.0 C171.0 1491.1 173.6 1493.7 175.0 1497.0 C176.4 1500.3 176.8 1505.7 177.5 1510.0 C178.2 1514.3 178.9 1520.5 179.2 1522.6" fill="none" stroke="#3a3a3a" stroke-width="3.1" stroke-linecap="round" stroke-linejoin="round"/>
<path d="M162.2 1508.6 L182.8 1505.5" fill="none" stroke="#3a3a3a" stroke-width="3.1" stroke-linecap="round" stroke-linejoin="round" />
<path d="M190.1 1495.2 L190.1 1516.5" fill="none" stroke="#3a3a3a" stroke-width="3.1" stroke-linecap="round" stroke-linejoin="round" />
<path d="M181.6 1495.8 C184.4 1495.8 194.1 1495.0 198.7 1495.8 C203.3 1496.6 206.8 1498.5 209.0 1500.5 C211.2 1502.5 212.2 1505.5 212.0 1508.0 C211.8 1510.5 210.2 1513.9 207.5 1515.5 C204.8 1517.1 199.2 1517.2 196.0 1517.5 C192.8 1517.8 189.3 1517.1 188.0 1517.0" fill="none" stroke="#3a3a3a" stroke-width="3.1" stroke-linecap="round" stroke-linejoin="round"/>
<path d="M220.6 1493.4 L247.9 1495.2" fill="none" stroke="#3a3a3a" stroke-width="3.1" stroke-linecap="round" stroke-linejoin="round" />
<path d="M237.0 1495.8 C237.1 1498.5 238.0 1508.0 237.6 1512.0 C237.2 1516.0 236.3 1518.2 234.5 1519.5 C232.7 1520.8 229.7 1521.3 227.0 1520.0 C224.3 1518.7 219.6 1513.0 218.1 1511.6" fill="none" stroke="#3a3a3a" stroke-width="3.1" stroke-linecap="round" stroke-linejoin="round"/>
<path d="M254.6 1494.6 C254.9 1496.8 255.3 1504.3 256.5 1508.0 C257.7 1511.7 259.9 1515.1 262.0 1516.5 C264.1 1517.9 267.0 1517.8 269.0 1516.5 C271.0 1515.2 273.5 1512.2 274.1 1508.4 C274.8 1504.6 273.1 1495.9 272.9 1493.4" fill="none" stroke="#3a3a3a" stroke-width="3.1" stroke-linecap="round" stroke-linejoin="round"/>
<path d="M306.9 1493.4 C304.9 1493.5 298.1 1493.1 295.0 1493.8 C291.9 1494.5 289.3 1495.8 288.5 1497.5 C287.7 1499.2 288.2 1502.0 290.0 1504.0 C291.8 1506.0 297.1 1507.8 299.0 1509.5 C300.9 1511.2 302.0 1513.1 301.5 1514.5 C301.0 1515.9 299.1 1517.3 296.0 1517.8 C292.9 1518.3 284.8 1517.7 282.6 1517.7" fill="none" stroke="#3a3a3a" stroke-width="3.1" stroke-linecap="round" stroke-linejoin="round"/>
<path d="M300.0 1493.4 L328.6 1494.0" fill="none" stroke="#3a3a3a" stroke-width="3.1" stroke-linecap="round" stroke-linejoin="round" />
<path d="M317.0 1495.8 L318.2 1515.3" fill="none" stroke="#3a3a3a" stroke-width="3.1" stroke-linecap="round" stroke-linejoin="round" />
<path d="M340.1 1520.1 C340.4 1517.1 341.0 1506.3 342.0 1502.0 C343.0 1497.7 344.7 1494.4 346.2 1494.0 C347.7 1493.6 349.5 1495.2 351.1 1499.5 C352.7 1503.8 355.2 1516.7 356.0 1520.1" fill="none" stroke="#3a3a3a" stroke-width="3.1" stroke-linecap="round" stroke-linejoin="round"/>
<path d="M335.3 1509.2 L357.2 1508.6" fill="none" stroke="#3a3a3a" stroke-width="3.1" stroke-linecap="round" stroke-linejoin="round" />
<path d="M369.3 1497.0 L370.6 1521.4" fill="none" stroke="#3a3a3a" stroke-width="3.1" stroke-linecap="round" stroke-linejoin="round" />
<path d="M360.8 1497.0 L380.0 1497.8" fill="none" stroke="#3a3a3a" stroke-width="3.1" stroke-linecap="round" stroke-linejoin="round" />
<path d="M380.0 1497.8 C381.2 1498.2 386.5 1499.0 387.5 1500.5 C388.5 1502.0 387.6 1505.5 386.0 1507.0 C384.4 1508.5 377.8 1508.3 377.9 1509.2 C378.0 1510.1 385.1 1510.9 386.5 1512.5 C387.9 1514.1 387.8 1517.5 386.0 1519.0 C384.2 1520.5 378.8 1520.8 376.0 1521.2 C373.2 1521.6 370.4 1521.4 369.3 1521.4" fill="none" stroke="#3a3a3a" stroke-width="3.1" stroke-linecap="round" stroke-linejoin="round"/>
<path d="M396.1 1499.5 L399.8 1518.9 L420.4 1515.9" fill="none" stroke="#3a3a3a" stroke-width="3.1" stroke-linecap="round" stroke-linejoin="round" />
<path d="M448.4 1497.0 L426.5 1497.0 L429.0 1518.9 L452.1 1516.5" fill="none" stroke="#3a3a3a" stroke-width="3.1" stroke-linecap="round" stroke-linejoin="round" />
<path d="M429.0 1506.8 L447.2 1506.2" fill="none" stroke="#3a3a3a" stroke-width="3.1" stroke-linecap="round" stroke-linejoin="round" />
<path d="M491.5 1499.4 L531.2 1500.9" fill="none" stroke="#3a3a3a" stroke-width="3.1" stroke-linecap="round" stroke-linejoin="round" />
<path d="M503.8 1500.9 L505.2 1524.0" fill="none" stroke="#3a3a3a" stroke-width="3.1" stroke-linecap="round" stroke-linejoin="round" />
<path d="M531.2 1500.9 C531.5 1501.9 533.7 1504.9 533.0 1506.7 C532.3 1508.5 529.2 1510.8 527.0 1512.0 C524.8 1513.2 520.9 1513.6 519.7 1513.9" fill="none" stroke="#3a3a3a" stroke-width="3.1" stroke-linecap="round" stroke-linejoin="round"/>
<path d="M519.7 1513.9 C521.4 1514.3 528.2 1515.2 530.0 1516.5 C531.8 1517.8 531.8 1520.7 530.5 1522.0 C529.2 1523.3 526.0 1524.2 522.0 1524.5 C518.0 1524.8 509.2 1524.1 506.7 1524.0" fill="none" stroke="#3a3a3a" stroke-width="3.1" stroke-linecap="round" stroke-linejoin="round"/>
<path d="M541.4 1526.9 C541.9 1523.4 542.8 1510.6 544.5 1506.0 C546.2 1501.4 549.4 1499.3 551.5 1499.4 C553.6 1499.5 555.8 1502.1 557.2 1506.7 C558.6 1511.3 559.6 1523.5 560.1 1526.9" fill="none" stroke="#3a3a3a" stroke-width="3.1" stroke-linecap="round" stroke-linejoin="round"/>
<path d="M535.6 1513.9 L564.5 1511.7" fill="none" stroke="#3a3a3a" stroke-width="3.1" stroke-linecap="round" stroke-linejoin="round" />
<path d="M570.2 1526.9 L573.1 1500.9" fill="none" stroke="#3a3a3a" stroke-width="3.1" stroke-linecap="round" stroke-linejoin="round" />
<path d="M573.1 1500.9 C574.8 1501.1 580.6 1500.8 583.0 1502.0 C585.4 1503.2 587.3 1506.1 587.5 1508.0 C587.7 1509.9 586.1 1512.3 584.0 1513.5 C581.9 1514.7 576.2 1515.0 574.6 1515.3" fill="none" stroke="#3a3a3a" stroke-width="3.1" stroke-linecap="round" stroke-linejoin="round"/>
<path d="M578.9 1515.3 L590.5 1528.3" fill="none" stroke="#3a3a3a" stroke-width="3.1" stroke-linecap="round" stroke-linejoin="round" />
<path d="M592.6 1526.9 L594.8 1500.9" fill="none" stroke="#3a3a3a" stroke-width="3.1" stroke-linecap="round" stroke-linejoin="round" />
<path d="M594.8 1500.9 C596.3 1501.2 601.6 1501.2 604.0 1502.5 C606.4 1503.8 608.7 1506.9 609.0 1509.0 C609.3 1511.1 608.1 1513.7 606.0 1515.0 C603.9 1516.3 597.9 1516.5 596.3 1516.8" fill="none" stroke="#3a3a3a" stroke-width="3.1" stroke-linecap="round" stroke-linejoin="round"/>
<path d="M600.6 1516.8 L612.1 1532.7" fill="none" stroke="#3a3a3a" stroke-width="3.1" stroke-linecap="round" stroke-linejoin="round" />
<path d="M629.5 1506.7 L612.1 1505.2 L613.6 1528.3 L636.7 1526.9" fill="none" stroke="#3a3a3a" stroke-width="3.1" stroke-linecap="round" stroke-linejoin="round" />
<path d="M613.6 1517.5 L628.0 1517.5" fill="none" stroke="#3a3a3a" stroke-width="3.1" stroke-linecap="round" stroke-linejoin="round" />
<path d="M643.9 1506.7 L645.4 1525.5 L665.6 1524.0" fill="none" stroke="#3a3a3a" stroke-width="3.1" stroke-linecap="round" stroke-linejoin="round" />
<path d="M715.5 1509.6 C713.9 1510.1 708.5 1510.4 706.0 1512.5 C703.5 1514.6 700.5 1519.1 700.3 1522.0 C700.1 1524.9 702.4 1528.2 705.0 1530.0 C707.6 1531.8 712.2 1532.0 716.0 1532.5 C719.8 1533.0 725.8 1532.7 727.7 1532.7" fill="none" stroke="#3a3a3a" stroke-width="3.1" stroke-linecap="round" stroke-linejoin="round"/>
<path d="M730.1 1508.4 L732.6 1529.1 L753.3 1530.3" fill="none" stroke="#3a3a3a" stroke-width="3.1" stroke-linecap="round" stroke-linejoin="round" />
<path d="M759.3 1533.9 L765.4 1508.4 L773.9 1535.1" fill="none" stroke="#3a3a3a" stroke-width="3.1" stroke-linecap="round" stroke-linejoin="round" />
<path d="M761.8 1524.8 L773.9 1524.2" fill="none" stroke="#3a3a3a" stroke-width="3.1" stroke-linecap="round" stroke-linejoin="round" />
<path d="M778.8 1513.2 L783.7 1514.5 L786.1 1533.9" fill="none" stroke="#3a3a3a" stroke-width="3.1" stroke-linecap="round" stroke-linejoin="round" />
<path d="M783.7 1514.5 L793.4 1524.2 L808.0 1510.8 L810.4 1535.1" fill="none" stroke="#3a3a3a" stroke-width="3.1" stroke-linecap="round" stroke-linejoin="round" />
<path d="M821.4 1512.0 L822.6 1533.9" fill="none" stroke="#3a3a3a" stroke-width="3.1" stroke-linecap="round" stroke-linejoin="round" />
<path d="M816.5 1513.2 C819.2 1513.0 828.8 1511.6 833.0 1511.8 C837.2 1512.0 841.0 1513.0 842.0 1514.5 C843.0 1516.0 842.6 1519.1 839.0 1520.5 C835.4 1521.9 823.3 1522.5 820.2 1522.9" fill="none" stroke="#3a3a3a" stroke-width="3.1" stroke-linecap="round" stroke-linejoin="round"/>
<circle cx="952.7" cy="1437.4" r="1.3" fill="#444"/>
<circle cx="1014.7" cy="1492.7" r="1.3" fill="#444"/>
<circle cx="1233.6" cy="135.0" r="1.3" fill="#444"/>
</svg>
</body></html>
